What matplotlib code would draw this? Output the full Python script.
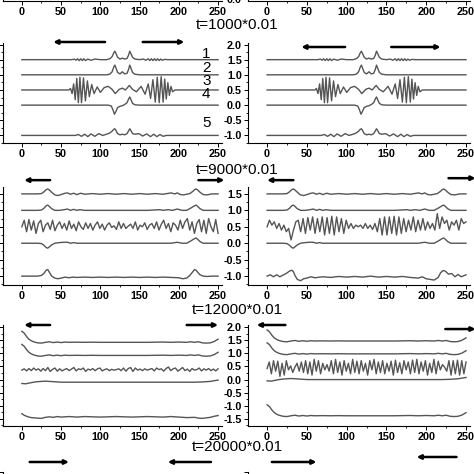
import numpy as np
import matplotlib
matplotlib.use("Agg")
import matplotlib.pyplot as plt
from matplotlib.ticker import MultipleLocator

plt.rcParams.update({
    "font.family": ["Liberation Sans", "DejaVu Sans"],
    "font.size": 7.8,
    "font.weight": "bold",
    "axes.linewidth": 0.8,
})

LINE = "#555555"

# ---------------- data: t=1000*0.01 ----------------
R1_X1 = [0,64,67,69,71,73,75,77,79,81,84,88,93,100,108,112,115,117,118.5,120,122,125,128,131,134,136,137.5,139,141,144,150,155,158,161,163,165,167,169,171,173,175,177,179,182,186,250]
R1_Y1 = [0,0,.02,-.02,.03,-.03,.03,-.03,.03,-.03,.02,-.02,.02,0,0,.03,.1,.22,.28,.2,.08,.02,.05,.02,.04,.15,.28,.2,.08,.02,0,.02,-.02,.03,-.03,.03,-.03,.03,-.03,.03,-.03,.02,-.02,.01,0,0]
R1_X2 = [0,108,112,115,117,118.5,120,122,125,128,131,134,136,137.5,139,141,144,150,250]
R1_Y2 = [0,0,.02,.1,.25,.32,.22,.08,.03,.1,.03,.05,.18,.32,.22,.08,.02,0,0]
R1_X3 = [0,60,62,64,66,68,70,72,74,76,78.5,81,83.5,86,89,92,96,100,105,110,115,119,124,128,132,137,141,146,152,157,161,164,167,170,172.5,175,177.5,180,182,184,186,188,190,192,195,250]
R1_Y3 = [0,0,.05,-.12,.2,-.32,.38,-.42,.42,-.42,.4,-.36,.3,-.22,.18,-.12,.1,-.08,.08,.12,.02,-.12,.02,.06,0,.15,.02,-.06,.12,-.14,.2,-.28,.34,-.4,.42,-.42,.44,-.4,.36,-.3,.24,-.18,.12,-.06,0,0]
R1_X4 = [0,110,114,116,118,120,122,125,128,131,134,136,137.5,139,141,144,150,250]
R1_Y4 = [0,0,-.03,-.15,-.3,-.2,-.08,-.04,-.02,.02,.08,.2,.27,.18,.06,.01,0,0]
R1_X5 = [0,68,72,76,80,84,88,93,98,103,108,112,115,117,118.5,120,122,125,128,131,134,136,137.5,139,141,144,149,154,159,164,168,172,176,180,184,250]
R1_Y5 = [0,0,.03,-.03,.04,-.04,.05,-.03,.06,0,.04,.08,.14,.2,.22,.16,.06,.02,.04,.02,.06,.15,.22,.16,.06,.04,.06,-.02,.05,-.04,.04,-.04,.03,-.03,0,0]

# ---------------- data: t=9000*0.01 ----------------
R2_X1 = [0,20,25,28,31,33,35,38,42,46,50,55,58,62,66,70,75,80,90,100,110,120,130,140,150,160,170,180,190,195,198,202,206,210,214,218,220,222,224,227,231,236,242,250]
R2_Y1 = [0,0,.01,.06,.13,.15,.12,.05,-.03,-.05,-.02,.02,.03,-.01,.02,-.02,.02,-.01,.01,-.01,.01,-.01,.01,-.01,.01,-.01,.01,-.01,.03,0,.03,-.02,-.03,-.01,.01,.08,.13,.15,.12,.05,-.02,-.03,0,0]
R2_X2 = [0,20,25,28,31,33,35,38,42,48,54,58,62,66,70,74,80,120,160,176,180,186,192,198,204,210,216,220,222,224,227,231,236,250]
R2_Y2 = [0,0,.01,.06,.14,.16,.12,.05,0,0,.02,.04,0,.03,0,.02,0,0,0,.02,0,.02,0,.04,0,0,.08,.14,.16,.12,.05,0,0,0]
R2_X4 = [0,20,25,28,31,33,35,38,42,48,54,58,62,66,70,80,120,190,198,204,210,216,220,222,224,227,231,236,250]
R2_Y4 = [0,0,-.01,-.06,-.13,-.15,-.11,-.05,0,.02,.03,.03,0,.02,0,0,0,0,.03,0,0,.08,.14,.16,.12,.05,0,0,0]
R2_X5L = [0,20,25,28,31,33,35,38,42,46,50,55,60,65,70,80,90,100,110,120,130,140,150,160,170,180,190,200,205,210,214,218,220,222,224,227,231,236,242,250]
R2_Y5L = [0,0,.02,.08,.18,.2,.12,0,-.06,-.08,-.06,-.03,-.05,-.03,-.04,-.03,-.04,-.03,-.04,-.03,-.04,-.03,-.04,-.03,-.04,-.03,-.04,-.05,-.08,-.06,.02,.14,.2,.18,.12,.04,0,-.01,0,0]
R2_X5R = [0,4,8,12,16,20,24,28,31,33,35,38,42,46,50,55,60,70,80,90,100,110,120,130,140,150,160,170,180,190,195,200,205,210,215,218,221,224,228,232,236,240,244,250]
R2_Y5R = [0,.04,-.02,.04,-.02,.03,.08,.15,.18,.14,.02,-.1,-.14,-.08,-.06,-.02,-.05,-.02,-.04,-.01,-.03,-.01,-.03,0,-.03,-.01,-.03,-.01,-.04,-.06,-.02,-.08,-.1,-.12,-.04,.1,.17,.15,.06,.08,-.02,.05,-.02,.04]
R2_Y3L = [0,.2,-.15,.22,-.1,.18,-.2,.1,.2,-.15,.05,.12,-.08,.2,-.12,.05,.15,-.05,.1,-.1,.18,-.05,.08,-.12,.15,0,-.08,.12,-.05,.1,-.1,.05,.15,-.05,.08,-.1,.05,.12,-.02,.03,-.08,.15,-.05,.1,-.05,.02,.08,-.05,.15,-.1,.05,0,.12,-.08,.05,.1,-.05,.15,-.1,.08,.2,-.05,.1,-.15,.12,.05,-.1,.2,-.05,.15,.25,-.1,.15,-.2,.1,.22,-.15,.2,-.2,.25,0,-.15,.22,-.2]
R2_Y3R = [0,.2,.05,.15,-.05,.1,-.1,.05,-.15,-.05,-.4,-.1,.15,.2,-.15,.25,-.2,.28,-.1,.3,-.2,.25,-.15,.3,-.25,.28,-.2,.32,-.25,.3,-.15,.25,-.2,.2,-.05,.1,-.05,.05,0,.05,-.05,.1,-.05,.05,-.08,.1,-.15,.25,-.25,.3,-.25,.3,-.2,.32,-.25,.3,-.2,.25,-.15,.2,-.1,.3,-.15,.2,-.1,.25,-.1,.15,-.05,.1,-.1,.4,-.05,.3,.1,.2,-.1,.15,.05,.2,-.1,.25,.1,.15]

# ---------------- data: t=12000*0.01 ----------------
R3_X1 = [0,3,6,9,12,15,20,25,30,35,40,45,50,55,60,70,80,90,100,120,140,160,180,190,200,210,215,220,225,230,235,240,245,250]
R3_Y1 = [.42,.35,.22,.12,.06,.02,-.02,-.03,0,.02,-.01,.01,-.01,.01,0,.005,0,.005,0,0,0,0,.01,0,.01,0,.02,0,.02,-.02,-.03,-.02,.03,.12]
R3_X4 = [0,5,10,15,20,30,40,50,100,150,200,220,230,240,250]
R3_Y4 = [-.05,-.06,-.03,0,.02,.04,.02,0,0,0,0,0,.01,.03,.08]
R3_X5 = [0,3,6,9,12,16,20,25,30,35,40,45,50,60,70,80,100,120,140,160,180,190,200,210,220,225,230,235,240,245,250]
R3_Y5 = [.12,.06,.02,-.01,-.03,-.04,-.05,-.06,-.02,0,-.02,.01,-.01,.01,-.01,.01,-.01,.01,-.01,.01,-.01,.01,-.01,-.03,-.02,-.05,-.06,-.04,-.02,.02,.05]
R3_Y3L = [0,.05,-.03,.06,-.02,.08,0,.05,-.04,.06,-.02,.1,-.05,.03,.08,-.04,.05,-.03,.02,.06,-.02,.04,.1,-.03,.05,.02,.08,-.05,.04,0,.06,-.02,.05,.08,-.03,.02,.05,-.02,.03,0,.02,.05,-.02,.08,-.04,.06,.1,-.05,.08,0,.04,-.02,.05,0,.03,.06,-.03,.08,.02,.05,-.04,.06,.12,-.02,.05,.08,-.04,.03,.1,-.02,.04,-.05,.06,0,.02,.08,-.03,.05,0,.06,-.02,.04,-.03,.05]
R3_Y3R = [0,.25,-.2,.3,-.1,.28,-.3,.2,-.25,.3,-.05,.1,-.15,.05,.2,-.1,.25,-.15,.3,-.2,.25,-.25,.35,-.1,.3,-.2,.2,-.05,.15,-.1,.3,-.2,.35,-.15,.25,-.25,.3,-.1,.2,-.2,.35,-.15,.28,-.2,.3,-.1,.2,-.25,.3,-.05,.35,-.2,.25,-.15,.3,-.2,.2,-.1,.28,-.25,.32,-.15,.22,-.2,.3,-.05,.25,-.2,.32,-.15,.35,-.2,.25,-.1,.3,-.25,.2,-.15,.35,-.2,.28,-.05,.15,.05,-.1,.3,-.25,.3,-.2,.32,-.25,.3,-.2,.25]

TITLES = ["t=1000*0.01", "t=9000*0.01", "t=12000*0.01", "t=20000*0.01"]
LABELS = ["1", "2", "3", "4", "5"]


def pos(px_top, px_bot, left):
    x0, x1 = (3, 222) if left else (248, 470)
    return [x0 / 474, 1 - px_bot / 474, (x1 - x0) / 474, (px_bot - px_top) / 474]


def style(ax, ylim, ystep, left):
    ax.set_xlim(-24, 255)
    ax.set_ylim(*ylim)
    ax.spines["top"].set_visible(False)
    ax.spines["right"].set_visible(False)
    ax.xaxis.set_major_locator(MultipleLocator(50))
    ax.xaxis.set_minor_locator(MultipleLocator(25))
    ax.yaxis.set_major_locator(MultipleLocator(ystep))
    ax.yaxis.set_minor_locator(MultipleLocator(ystep / 2))
    ax.tick_params(which="major", length=3, width=0.7, pad=1.5)
    ax.tick_params(which="minor", length=1.5, width=0.6)
    ax.yaxis.set_major_formatter(plt.FormatStrFormatter("%.1f"))
    if left:
        ax.tick_params(axis="y", labelleft=False)


def curve(ax, x, y, base, xs=None):
    if xs is None:
        xs = np.linspace(0, 250, len(y))
        ax.plot(xs, base + np.array(y), color=LINE, lw=1.0)
    else:
        ax.plot(x, base + np.array(y), color=LINE, lw=1.0)


def arrow(ax, x0, x1, yf):
    ax.annotate("", xy=(x1, yf), xytext=(x0, yf), xycoords=("data", "axes fraction"),
                annotation_clip=False,
                arrowprops=dict(arrowstyle="-|>", lw=1.8, color="k", mutation_scale=6,
                                shrinkA=0, shrinkB=0))


fig = plt.figure(figsize=(4.74, 4.74), dpi=100)

# partial row at the very top
for left in (True, False):
    ax = fig.add_axes(pos(-100, 1, left))
    style(ax, (-0.02, 1.0), 0.5, left)
    if not left:
        ax.set_yticks([0.0])

for title, ypx in zip(TITLES, [25, 170, 310, 447]):
    fig.text(0.5, 1 - ypx / 474, title, ha="center", va="center", fontsize=11, fontweight="normal")

# row 1
bases1 = [1.5, 1.0, 0.5, 0.0, -1.0]
r1 = [(R1_X1, R1_Y1), (R1_X2, R1_Y2), (R1_X3, R1_Y3), (R1_X4, R1_Y4), (R1_X5, R1_Y5)]
for left in (True, False):
    ax = fig.add_axes(pos(43, 143, left))
    style(ax, (-1.25, 2.05), 0.5, left)
    for (x, y), b in zip(r1, bases1):
        curve(ax, x, y, b, xs=x)
    if left:
        arrow(ax, 106, 40, 1.01)
        arrow(ax, 154, 207, 1.01)
        for lab, yy in zip(LABELS, [1.68, 1.23, 0.78, 0.36, -0.6]):
            ax.text(235, yy, lab, ha="center", va="center", fontsize=11, fontweight="normal")
    else:
        arrow(ax, 98, 43, 0.96)
        arrow(ax, 156, 218, 0.96)

# row 2
for left in (True, False):
    ax = fig.add_axes(pos(187, 285, left))
    style(ax, (-1.27, 1.71), 0.5, left)
    curve(ax, R2_X1, R2_Y1, 1.5, xs=R2_X1)
    curve(ax, R2_X2, R2_Y2, 1.0, xs=R2_X2)
    curve(ax, None, R2_Y3L if left else R2_Y3R, 0.5)
    curve(ax, R2_X4, R2_Y4, 0.0, xs=R2_X4)
    if left:
        curve(ax, R2_X5L, R2_Y5L, -1.0, xs=R2_X5L)
        arrow(ax, 36, 3, 1.07)
        arrow(ax, 225, 258, 1.07)
    else:
        curve(ax, R2_X5R, R2_Y5R, -1.0, xs=R2_X5R)
        arrow(ax, 33, 0, 1.07)
        arrow(ax, 228, 262, 1.09)

# row 3
for left in (True, False):
    ax = fig.add_axes(pos(325, 426, left))
    style(ax, (-1.77, 2.08), 0.5, left)
    if left:
        curve(ax, R3_X1, R3_Y1, 1.42, xs=R3_X1)
        curve(ax, R3_X1, R3_Y1, 0.92, xs=R3_X1)
        curve(ax, None, R3_Y3L, 0.36)
        curve(ax, R3_X4, R3_Y4, -0.1, xs=R3_X4)
        curve(ax, R3_X5, R3_Y5, -1.42, xs=R3_X5)
        arrow(ax, 36, 3, 1.0)
        arrow(ax, 210, 250, 1.0)
    else:
        curve(ax, R3_X1, R3_Y1, 1.47, xs=R3_X1)
        curve(ax, R3_X1, R3_Y1, 0.98, xs=R3_X1)
        curve(ax, None, R3_Y3R, 0.42)
        curve(ax, R3_X4, R3_Y4, 0.0, xs=R3_X4)
        curve(ax, R3_X1, R3_Y1, -1.38, xs=R3_X1)
        arrow(ax, 23, -13, 1.0)
        arrow(ax, 224, 262, 0.96)

# partial row at the bottom
for left in (True, False):
    ax = fig.add_axes(pos(472, 574, left))
    style(ax, (-2, 2), 0.5, left)
    ax.tick_params(labelleft=False, labelbottom=False)
    hpx = 102
    if left:
        arrow(ax, 10, 60, 1 + 10 / hpx)
        arrow(ax, 241, 186, 1 + 10 / hpx)
    else:
        arrow(ax, 6, 62, 1 + 10 / hpx)
        arrow(ax, 238, 188, 1 + 15 / hpx)

fig.savefig("out.png", dpi=100)
